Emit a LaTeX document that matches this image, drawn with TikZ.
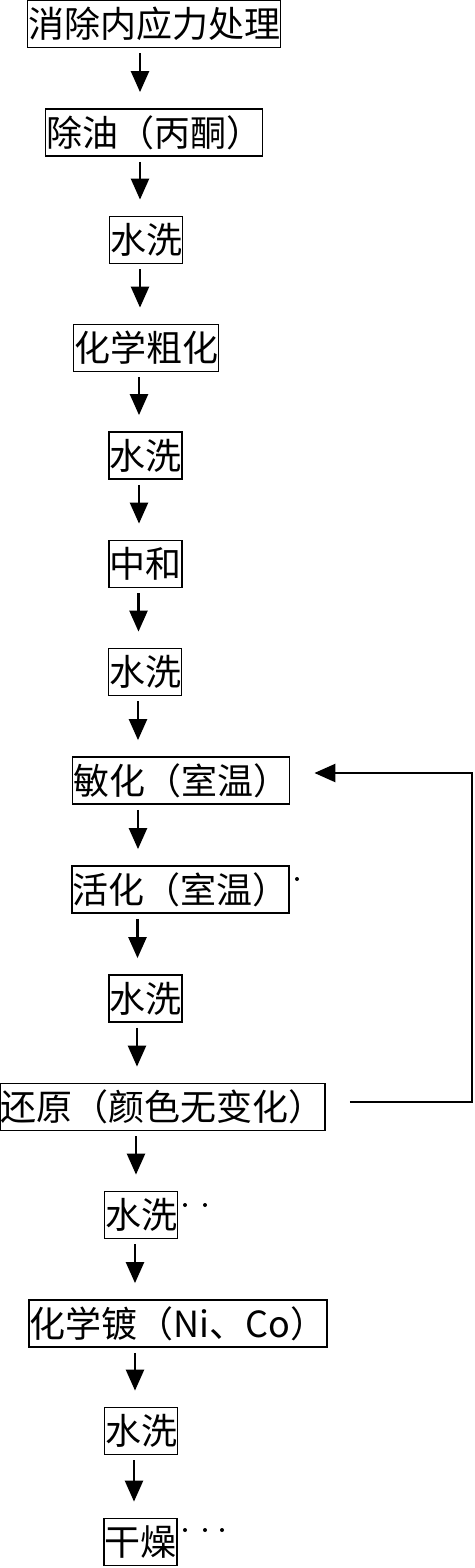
\documentclass[tikz,border=0pt]{standalone}
\usepackage{fontspec}
\setmainfont{Noto Sans CJK SC}
\usetikzlibrary{arrows.meta}

\begin{document}
\begin{tikzpicture}[x=1pt,y=-1pt,line width=2.4pt,
  >={Triangle[width=18pt,length=21pt]},
  stage/.style={draw,line width=1.8pt,inner xsep=0.5pt,inner ysep=0pt,
    minimum height=47pt,font=\fontsize{36pt}{40pt}\selectfont},
  link/.style={->,shorten <=5pt,shorten >=16pt}]
\useasboundingbox (0,0) rectangle (474,1568);
\node[stage] (A) at (154,24) {消除内应力处理};
\node[stage] (B) at (154,132.5) {除油（丙酮）};
\node[stage] (C) at (146,240) {水洗};
\node[stage] (D) at (146,348) {化学粗化};
\node[stage] (E) at (145.5,455.5) {水洗};
\node[stage] (F) at (145.5,564) {中和};
\node[stage] (G) at (145,672) {水洗};
\node[stage] (H) at (181,780.5) {敏化（室温）};
\node[stage] (I) at (180.5,889.5) {活化（室温）};
\node[stage] (J) at (145.5,998.5) {水洗};
\node[stage] (K) at (162.5,1107) {还原（颜色无变化）};
\node[stage] (L) at (141,1215) {水洗};
\node[stage] (M) at (178,1323.5) {化学镀（Ni、Co）};
\node[stage] (N) at (141,1431) {水洗};
\node[stage] (O) at (140.5,1542) {干燥};
\draw [link] (A.south -| 140,0) -- (B.north -| 140,0);
\draw [link] (B.south -| 140,0) -- (C.north -| 140,0);
\draw [link] (C.south -| 140,0) -- (D.north -| 140,0);
\draw [link] (D.south -| 139,0) -- (E.north -| 139,0);
\draw [link] (E.south -| 139,0) -- (F.north -| 139,0);
\draw [link] (F.south -| 138.5,0) -- (G.north -| 138.5,0);
\draw [link] (G.south -| 138,0) -- (H.north -| 138,0);
\draw [link] (H.south -| 138,0) -- (I.north -| 138,0);
\draw [link] (I.south -| 137.5,0) -- (J.north -| 137.5,0);
\draw [link] (J.south -| 137,0) -- (K.north -| 137,0);
\draw [link] (K.south -| 136,0) -- (L.north -| 136,0);
\draw [link] (L.south -| 135,0) -- (M.north -| 135,0);
\draw [link] (M.south -| 135,0) -- (N.north -| 135,0);
\draw [link] (N.south -| 134,0) -- (O.north -| 134,0);
% loop back from reduction to sensitising
\coordinate (R1) at (472,1102);
\coordinate (R2) at (472,773);
\draw [->,shorten <=24pt,shorten >=24pt] (K.east |- R1) -- (R1) -- (R2) -- (H.east |- R2);
% marks beside the boxes
\fill (297,879) circle (2pt);
\fill (185,1205) circle (2pt);
\fill (205,1205) circle (2pt);
\fill (185,1530) circle (2pt);
\fill (205,1530) circle (2pt);
\fill (222,1530) circle (2pt);
\end{tikzpicture}
\end{document}
